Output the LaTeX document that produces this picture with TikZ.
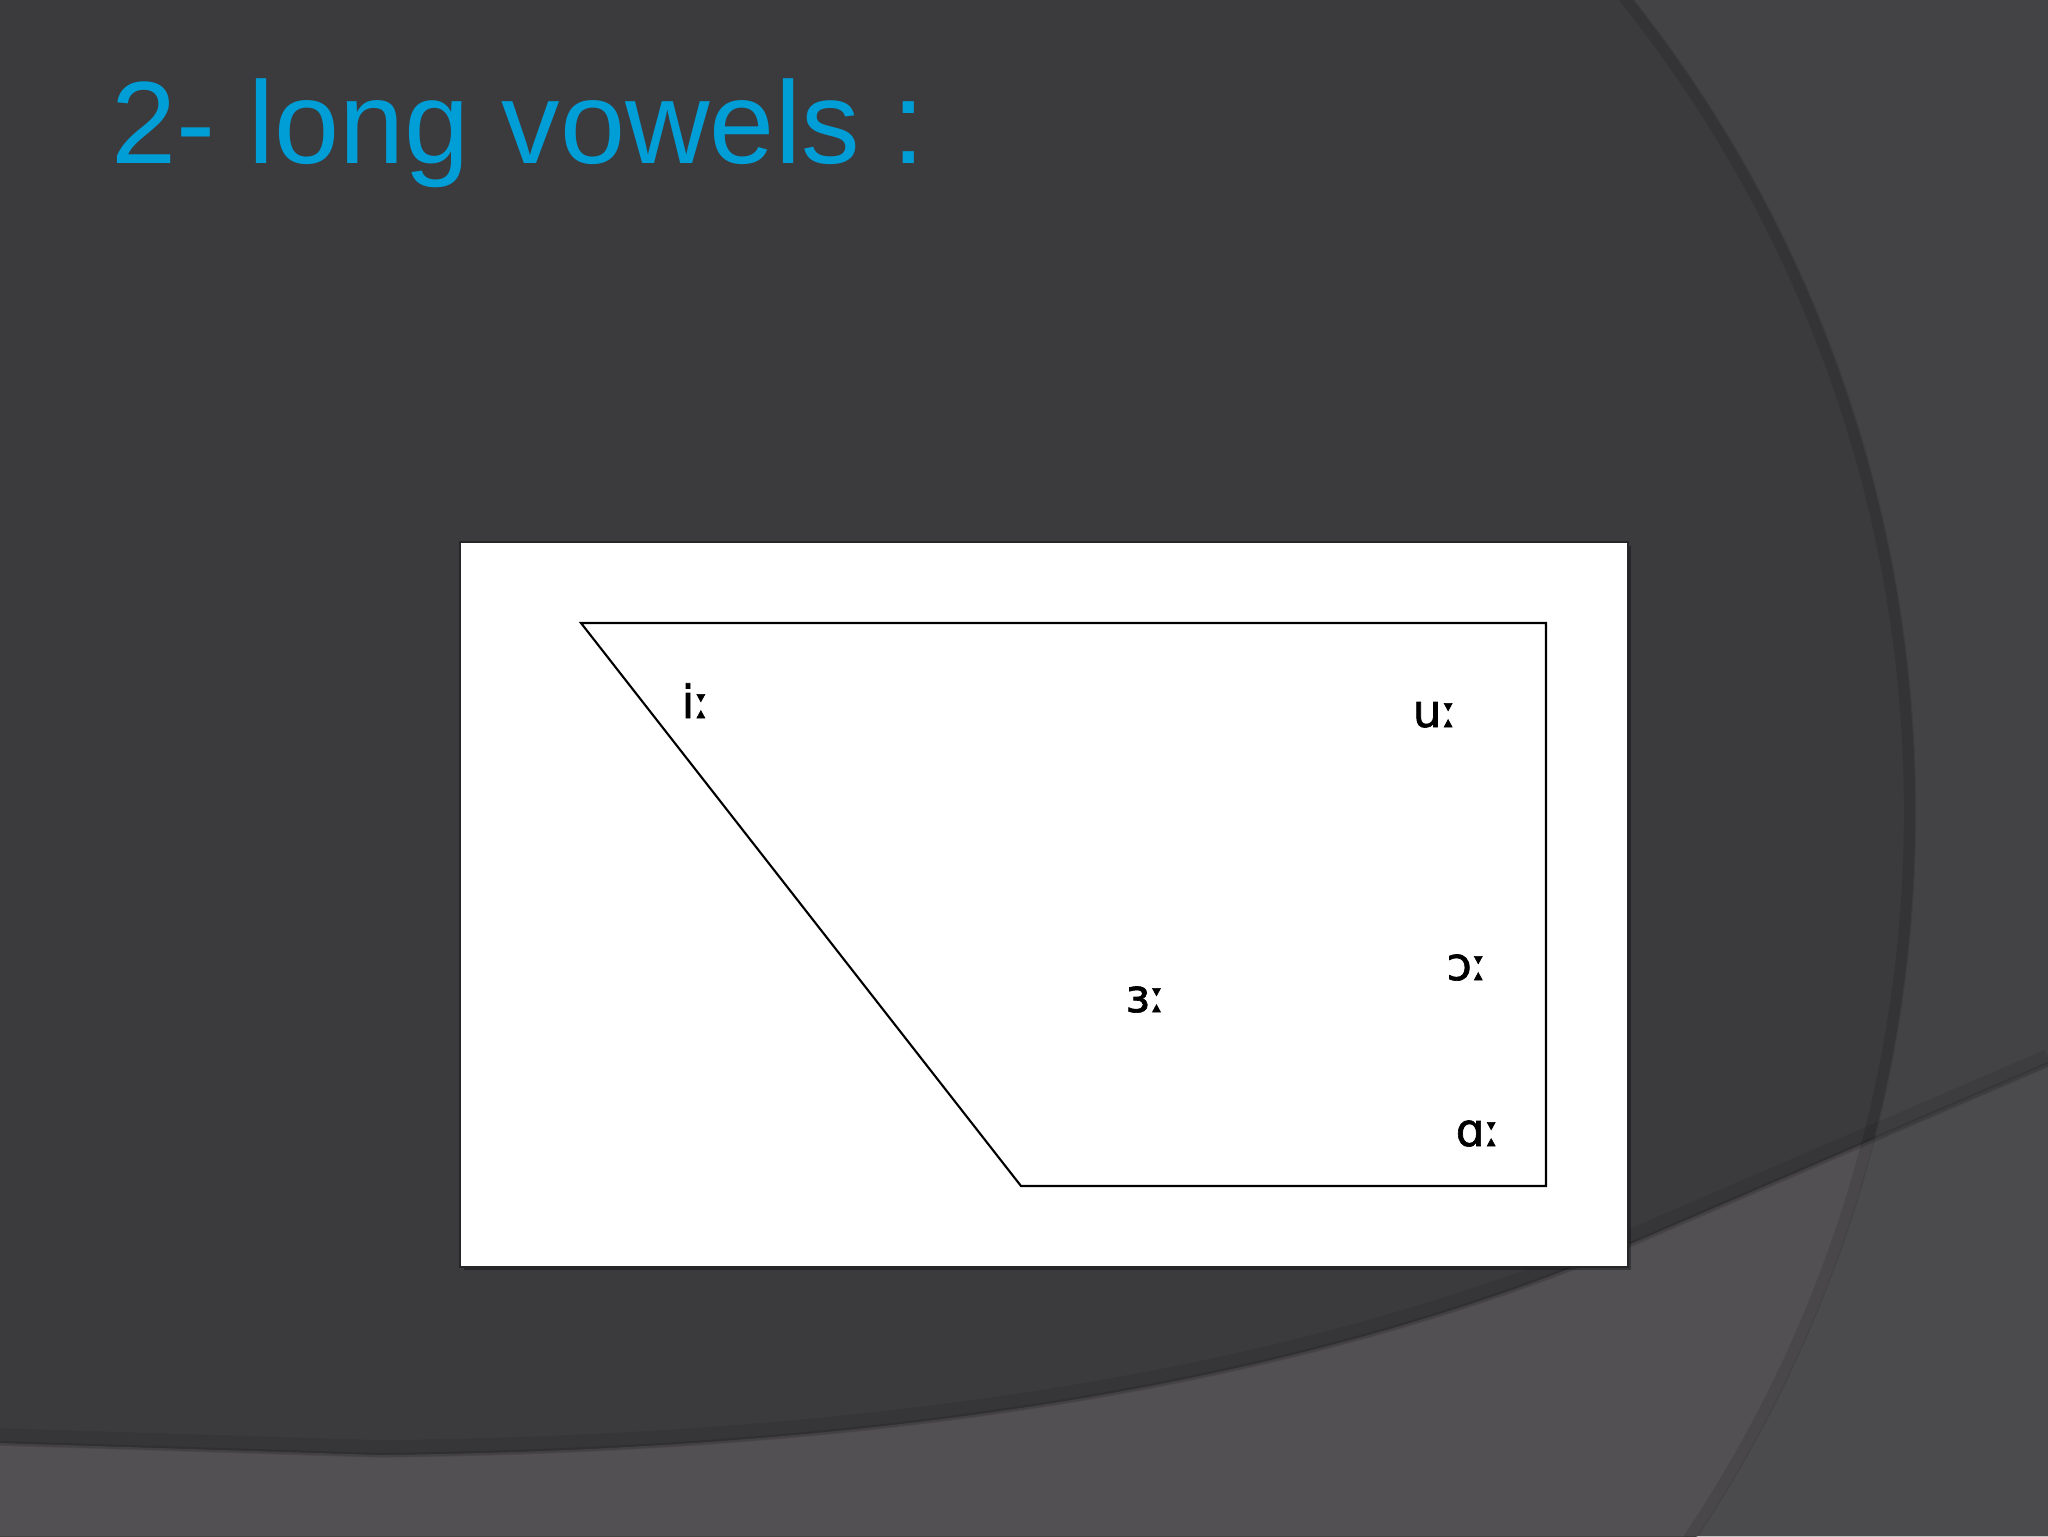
\documentclass[tikz,border=0pt]{standalone}
\usepackage{fontspec}
\setmainfont{Liberation Sans}
\newfontfamily\ipafont{DejaVu Sans}[FakeBold=1.4]
\usepackage{tikz}
\usetikzlibrary{positioning}

\definecolor{slatebg}{HTML}{3B3A3D}
\definecolor{slateright}{HTML}{434245}
\definecolor{slateband}{HTML}{525053}
\definecolor{slatebandright}{HTML}{4B4A4D}
\definecolor{titleblue}{RGB}{0,158,214}

\begin{document}
\begin{tikzpicture}[x=0.1mm,y=-0.1mm,
  vowel/.style={font=\ipafont\fontsize{13}{15}\selectfont, anchor=base west, inner sep=0pt},
  chart/.style={black, line width=0.6pt}]
\useasboundingbox (0,0) rectangle (2048,1536);

% background
\fill[slatebg] (0,0) rectangle (2048,1536);
\fill[slateright, even odd rule] (0,0) rectangle (2048,1536) (605,812) circle (1310);
\def\bandedge{(0,1443) -- (380,1455) .. controls (800,1450) and (1250,1405) .. (1628,1245) -- (2048,1064)}
\fill[slateband] \bandedge -- (2048,1536) -- (0,1536) -- cycle;
\begin{scope}
  \clip \bandedge -- (2048,1536) -- (0,1536) -- cycle;
  \fill[slatebandright, even odd rule] (0,0) rectangle (2048,1536) (605,812) circle (1310);
\end{scope}
% soft rims
\draw[black, opacity=0.10, line width=3.5pt] (605,812) circle (1305);
\begin{scope}[yshift=0.6mm]
  \draw[black, opacity=0.08, line width=5pt] \bandedge;
\end{scope}
\draw[black, opacity=0.10, line width=1.2pt] \bandedge;

% title
\node[font=\fontsize{33.3}{40}\selectfont, text=titleblue, anchor=base west, inner sep=0pt] (title) at (111,163) {2- long vowels :};

% vowel chart
\fill[black, opacity=0.35] (464,546) rectangle (1631,1270);
\draw[black!85, line width=0.5pt, fill=white] (460,542) rectangle (1628,1267);
\draw[chart] (581,623) -- (1546,623) -- (1546,1186) -- (1021,1186) -- cycle;

% vowels
\node[vowel] (ii) at (681,718) {iː};
\node[vowel] (uu) at (1412,727) {uː};
\node[vowel] (er) at (1125,1012) {ɜː};
\node[vowel] (oo) at (1446,980) {ɔː};
\node[vowel] (aa) at (1455,1146) {ɑː};
\end{tikzpicture}
\end{document}
